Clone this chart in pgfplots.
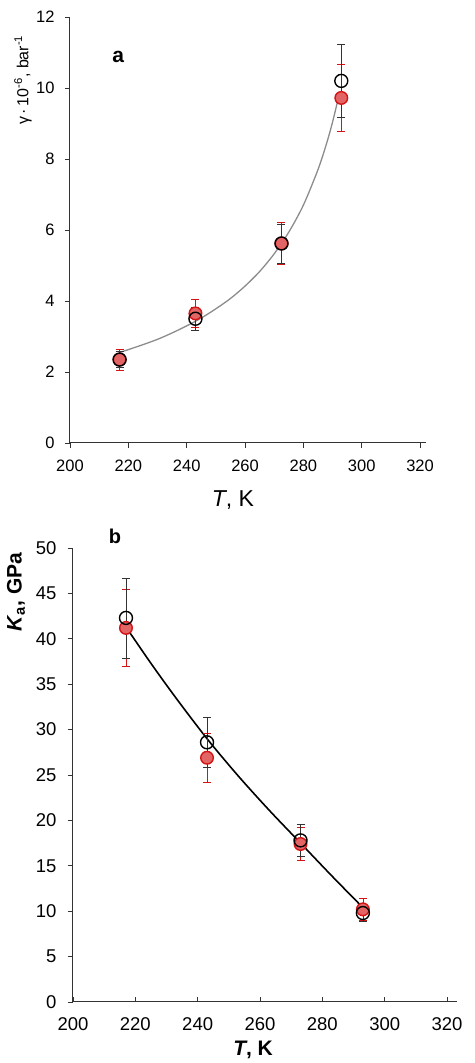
\documentclass[border=0pt]{standalone}
\usepackage{pgfplots}
\pgfplotsset{compat=1.18}
\usepackage{pgfplotstable}
\usepackage{fontspec}
\setmainfont{Liberation Sans}
\definecolor{redfill}{HTML}{E26464}
\definecolor{rededge}{HTML}{D41414}
\definecolor{curvea}{HTML}{8C8C8C}
\definecolor{axcol}{HTML}{333333}

\pgfplotstableread{
T y e
217 2.35 0.30
243 3.65 0.40
272.5 5.62 0.60
293 9.72 0.95
}\redA
\pgfplotstableread{
T y e
217 2.35 0.22
243 3.50 0.32
272.5 5.62 0.55
293 10.20 1.02
}\blackA
\pgfplotstableread{
T y e
217 41.2 4.2
243 26.9 2.7
273 17.4 1.8
293 10.2 1.2
}\redB
\pgfplotstableread{
T y e
217 42.3 4.4
243 28.6 2.8
273 17.8 1.8
293 9.8 0.9
}\blackB

\pgfplotsset{
  common/.style={
    scale only axis, anchor=south west, clip=false,
    axis lines=left, axis line style={-, line width=1pt, axcol},
    tick style={line width=0.9pt, axcol},
    major tick length=5pt,
    /pgf/number format/assume math mode=true,
  },
  redpts/.style={only marks, mark=*, mark size=6.3pt,
    mark options={fill=redfill, draw=rededge, line width=1.4pt},
    error bars/.cd, y dir=both, y explicit,
    error bar style={rededge, line width=0.7pt},
    error mark options={rotate=90, mark size=4pt, rededge, line width=0.7pt}},
  blkpts/.style={only marks, mark=o, mark size=6.5pt,
    mark options={draw=black, line width=1.4pt},
    error bars/.cd, y dir=both, y explicit,
    error bar style={black!80, line width=0.7pt},
    error mark options={rotate=90, mark size=4pt, black!80, line width=0.7pt}},
}

\begin{document}
\begin{tikzpicture}
\path[use as bounding box] (0pt,0pt) rectangle (474pt,1063pt);

% ---------- panel a ----------
\begin{axis}[common,
  at={(70pt,620pt)}, width=355.9pt, height=426pt,
  xmin=200, xmax=322, ymin=0, ymax=12,
  xtick={200,220,...,320}, ytick={0,2,...,12},
  tick align=outside,
  ticklabel style={font=\fontsize{16.5}{16.5}\selectfont},
  xticklabel style={yshift=-8pt},
  yticklabel style={xshift=-7pt},
  xlabel={\textit{T}, K},
  every axis x label/.style={at={(rel axis cs:0.458,0)}, anchor=center, yshift=-57pt,
    font=\fontsize{23}{23}\selectfont},
  ylabel={γ\,·\,10\textsuperscript{-6}, bar\textsuperscript{-1}},
  every axis y label/.style={at={(rel axis cs:0,0.852)}, anchor=center, rotate=90, yshift=47pt,
    font=\fontsize{16}{16}\selectfont},
]
\addplot[curvea, line width=1.3pt, smooth] coordinates {
(217,2.55) (220,2.63) (225,2.77) (230,2.92) (235,3.10) (240,3.30) (245,3.52)
(250,3.78) (255,4.07) (260,4.42) (265,4.83) (270,5.33) (275,5.94) (280,6.70)
(285,7.70) (288,8.45) (290,9.04) (292,9.72)};
\addplot[redpts] table[x=T, y=y, y error=e] {\redA};
\addplot[blkpts] table[x=T, y=y, y error=e] {\blackA};
\node[font=\fontsize{21}{21}\selectfont\bfseries] at (axis cs:216.5,10.87) {a};
\end{axis}

% ---------- panel b ----------
\begin{axis}[common,
  at={(73pt,61pt)}, width=384pt, height=454pt,
  xmin=200, xmax=323.2, ymin=0, ymax=50,
  xtick={200,220,...,320}, ytick={0,5,...,50},
  xtick align=inside, ytick align=outside,
  ticklabel style={font=\fontsize{18.5}{18.5}\selectfont},
  xticklabel style={yshift=-12pt},
  yticklabel style={xshift=-8pt},
  xlabel={\textbf{\textit{T}, K}},
  every axis x label/.style={at={(rel axis cs:0.469,0)}, anchor=center, yshift=-48pt,
    font=\fontsize{21}{21}\selectfont\bfseries},
  ylabel={\textbf{\textit{K}\textsubscript{a}, GPa}},
  every axis y label/.style={at={(rel axis cs:0,0.903)}, anchor=center, rotate=90, yshift=57pt,
    font=\fontsize{21}{21}\selectfont\bfseries},
]
\addplot[black, line width=1.6pt, smooth] coordinates {
(217,41.3) (225,37.3) (233,33.5) (243,29.0) (253,24.9) (263,21.1) (273,17.5) (283,13.9) (293,10.4)};
\addplot[redpts] table[x=T, y=y, y error=e] {\redB};
\addplot[blkpts] table[x=T, y=y, y error=e] {\blackB};
\node[font=\fontsize{20}{20}\selectfont\bfseries] at (axis cs:213.5,51.3) {b};
\end{axis}
\end{tikzpicture}
\end{document}
